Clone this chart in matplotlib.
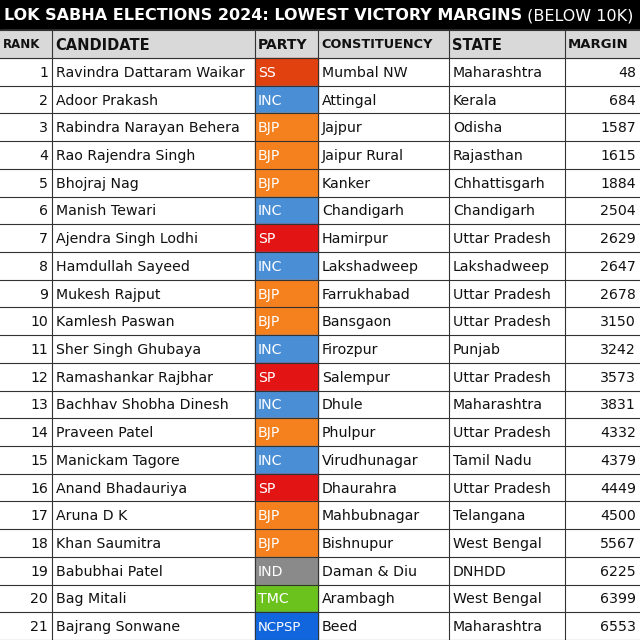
import matplotlib
matplotlib.use("Agg")
import matplotlib.pyplot as plt
from matplotlib.patches import Rectangle

plt.rcParams['font.family'] = ['DejaVu Sans']

title_bold = "LOK SABHA ELECTIONS 2024: LOWEST VICTORY MARGINS"
title_light = " (BELOW 10K)"
headers = ["RANK", "CANDIDATE", "PARTY", "CONSTITUENCY", "STATE", "MARGIN"]
ranks = list(range(1, 22))
candidates = ["Ravindra Dattaram Waikar", "Adoor Prakash", "Rabindra Narayan Behera", "Rao Rajendra Singh",
              "Bhojraj Nag", "Manish Tewari", "Ajendra Singh Lodhi", "Hamdullah Sayeed", "Mukesh Rajput",
              "Kamlesh Paswan", "Sher Singh Ghubaya", "Ramashankar Rajbhar", "Bachhav Shobha Dinesh",
              "Praveen Patel", "Manickam Tagore", "Anand Bhadauriya", "Aruna D K", "Khan Saumitra",
              "Babubhai Patel", "Bag Mitali", "Bajrang Sonwane"]
parties = ["SS", "INC", "BJP", "BJP", "BJP", "INC", "SP", "INC", "BJP", "BJP", "INC", "SP", "INC", "BJP",
           "INC", "SP", "BJP", "BJP", "IND", "TMC", "NCPSP"]
constituencies = ["Mumbal NW", "Attingal", "Jajpur", "Jaipur Rural", "Kanker", "Chandigarh", "Hamirpur",
                  "Lakshadweep", "Farrukhabad", "Bansgaon", "Firozpur", "Salempur", "Dhule", "Phulpur",
                  "Virudhunagar", "Dhaurahra", "Mahbubnagar", "Bishnupur", "Daman & Diu", "Arambagh", "Beed"]
states = ["Maharashtra", "Kerala", "Odisha", "Rajasthan", "Chhattisgarh", "Chandigarh", "Uttar Pradesh",
          "Lakshadweep", "Uttar Pradesh", "Uttar Pradesh", "Punjab", "Uttar Pradesh", "Maharashtra",
          "Uttar Pradesh", "Tamil Nadu", "Uttar Pradesh", "Telangana", "West Bengal", "DNHDD",
          "West Bengal", "Maharashtra"]
margins = [48, 684, 1587, 1615, 1884, 2504, 2629, 2647, 2678, 3150, 3242, 3573, 3831, 4332, 4379, 4449,
           4500, 5567, 6225, 6399, 6553]
party_colors = {"SS": "#e0410f", "INC": "#4a8fd6", "BJP": "#f5801e", "SP": "#e31414",
                "IND": "#8a8a8a", "TMC": "#6cc21d", "NCPSP": "#1166dd"}

W = 640
col_x = [0, 52, 255, 318, 449, 565, 640]
title_h = 30
head_top, head_bot = 30, 58
row_h = (640 - head_bot) / 21

fig = plt.figure(figsize=(6.4, 6.4), dpi=100)
ax = fig.add_axes([0, 0, 1, 1])
ax.set_xlim(0, W)
ax.set_ylim(640, 0)
ax.axis('off')

ax.add_patch(Rectangle((0, 0), W, title_h, color='black'))
t = ax.text(4, 16, title_bold, color='white', fontsize=11.5, fontweight='bold', va='center', ha='left')
fig.canvas.draw()
bb = t.get_window_extent().transformed(ax.transData.inverted())
ax.text(bb.x1, 16, title_light, color='white', fontsize=11.5, va='center', ha='left')

ax.add_patch(Rectangle((0, head_top), W, head_bot - head_top, color='#d9d9d9'))
head_sizes = [8.5, 10.5, 10, 9.3, 10.5, 9.5]
for i, h in enumerate(headers):
    ax.text(col_x[i] + 3, (head_top + head_bot) / 2 + 1, h, fontsize=head_sizes[i], fontweight='bold',
            va='center', ha='left', color='#111111')

fs = 10.2
for r in range(21):
    y0 = head_bot + r * row_h
    yc = y0 + row_h / 2 + 1
    ax.add_patch(Rectangle((col_x[2], y0), col_x[3] - col_x[2], row_h, color=party_colors[parties[r]]))
    ax.text(col_x[1] - 4, yc, str(ranks[r]), fontsize=fs, va='center', ha='right', color='#111111')
    ax.text(col_x[1] + 4, yc, candidates[r], fontsize=fs, va='center', ha='left', color='#111111')
    ax.text(col_x[2] + 3, yc, parties[r], fontsize=fs if len(parties[r]) < 5 else 9.5,
            va='center', ha='left', color='white')
    ax.text(col_x[3] + 4, yc, constituencies[r], fontsize=fs, va='center', ha='left', color='#111111')
    ax.text(col_x[4] + 4, yc, states[r], fontsize=fs, va='center', ha='left', color='#111111')
    ax.text(col_x[6] - 4, yc, str(margins[r]), fontsize=fs, va='center', ha='right', color='#111111')

for r in range(22):
    y = head_bot + r * row_h
    ax.plot([0, W], [y, y], color='#333333', lw=0.8)
ax.plot([0, W], [head_top, head_top], color='#333333', lw=0.8)
for x in col_x[1:-1]:
    ax.plot([x, x], [head_top, 640], color='#333333', lw=0.8)

fig.savefig("out.png", dpi=100)
